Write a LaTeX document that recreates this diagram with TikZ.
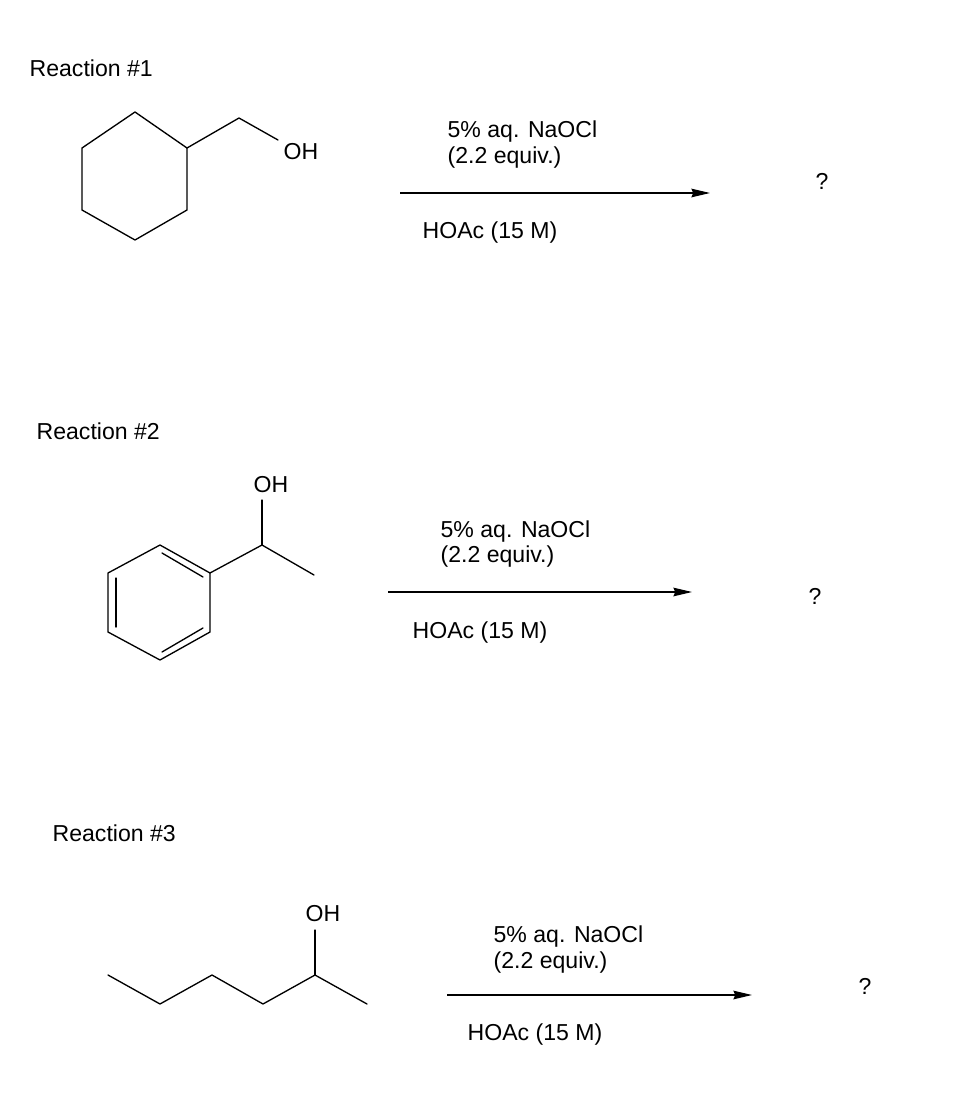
\documentclass[tikz,border=0pt]{standalone}
\usepackage{fontspec}
\setmainfont{Liberation Sans}
\usetikzlibrary{arrows.meta}
\begin{document}
\begin{tikzpicture}[x=0.75pt,y=-0.75pt,line width=1pt,
  txt/.style={font=\fontsize{17.3}{20}\selectfont,inner sep=0pt},
  lbl/.style={txt,anchor=west},
  rxn/.style={-{Stealth[length=14pt,width=6.5pt,inset=1.5pt]},line width=1pt},
  bond/.style={line width=1pt,line cap=round,line join=round}]
\useasboundingbox (0,0) rectangle (968,1114);
% Reaction 1
\node[lbl] (r1) at (29,68) {Reaction \#1};
\draw[bond] (135,112) -- (187,148) -- (187,210) -- (135,240) -- (82,210) -- (82,148) -- cycle;
\draw[bond] (187,148) -- (239,118) -- (278,140);
\node[txt] (oh1) at (301,152) {OH};
\coordinate (a1s) at (400,193); \coordinate (a1e) at (710,193);
\draw[rxn] (a1s) -- (a1e);
\node[lbl] (c1a) at (447,132) {5\% aq. NaOCl};
\node[lbl] (c1b) at (447,158) {(2.2 equiv.)};
\node[lbl] (c1c) at (422,233) {HOAc (15 M)};
\node[txt] (q1) at (822,181) {?};
% Reaction 2
\node[lbl] (r2) at (36,431) {Reaction \#2};
\draw[bond] (160,545) -- (210,573) -- (210,632) -- (160,660) -- (108,632) -- (108,573) -- cycle;
\draw[bond] (116,578) -- (116,627);
\draw[bond] (162,553) -- (203,577);
\draw[bond] (162,652) -- (203,628);
\draw[bond] (210,573) -- (262,545) -- (314,575);
\draw[bond] (262,545) -- (262,500);
\node[txt] (oh2) at (271,485) {OH};
\coordinate (a2s) at (388,592); \coordinate (a2e) at (692,592);
\draw[rxn] (a2s) -- (a2e);
\node[lbl] (c2a) at (440,532) {5\% aq. NaOCl};
\node[lbl] (c2b) at (440,557) {(2.2 equiv.)};
\node[lbl] (c2c) at (412,633) {HOAc (15 M)};
\node[txt] (q2) at (815,596) {?};
% Reaction 3
\node[lbl] (r3) at (52,833) {Reaction \#3};
\draw[bond] (108,975) -- (160,1004) -- (212,975) -- (263,1004) -- (315,975) -- (367,1004);
\draw[bond] (315,975) -- (315,930);
\node[txt] (oh3) at (323,914) {OH};
\coordinate (a3s) at (447,995); \coordinate (a3e) at (752,995);
\draw[rxn] (a3s) -- (a3e);
\node[lbl] (c3a) at (493,937) {5\% aq. NaOCl};
\node[lbl] (c3b) at (493,963) {(2.2 equiv.)};
\node[lbl] (c3c) at (467,1035) {HOAc (15 M)};
\node[txt] (q3) at (865,986) {?};
\end{tikzpicture}
\end{document}
